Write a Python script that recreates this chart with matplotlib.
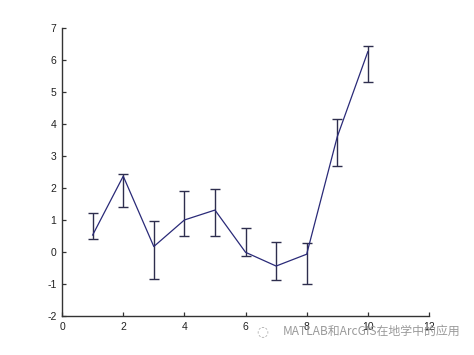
import numpy as np
import matplotlib.pyplot as plt

plt.rcParams['axes.unicode_minus'] = False

x = [1, 2, 3, 4, 5, 6, 7, 8, 9, 10]
y = [0.53, 2.37, 0.17, 1.0, 1.31, -0.01, -0.44, -0.07, 3.60, 6.26]
y_top = [1.21, 2.43, 0.97, 1.92, 1.97, 0.76, 0.31, 0.28, 4.15, 6.44]
y_bot = [0.40, 1.42, -0.85, 0.50, 0.50, -0.13, -0.89, -1.00, 2.70, 5.31]

x_ticks = [0, 2, 4, 6, 8, 10, 12]
y_ticks = [-2, -1, 0, 1, 2, 3, 4, 5, 6, 7]
watermark = 'MATLAB和ArcGIS在地学中的应用'

y = np.array(y)
err = [y - np.array(y_bot), np.array(y_top) - y]

fig = plt.figure(figsize=(4.74, 3.55), dpi=100)
ax = fig.add_axes([0.131, 0.110, 0.774, 0.811])

ax.errorbar(x, y, yerr=err, color='#2a2a78', ecolor='#2e2e4e', lw=0.9,
            elinewidth=1.0, capsize=3.5, capthick=1.0)

ax.set_xlim(0, 12)
ax.set_ylim(-2, 7)
ax.set_xticks(x_ticks)
ax.set_yticks(y_ticks)
for s in ['top', 'right']:
    ax.spines[s].set_visible(False)
for s in ['left', 'bottom']:
    ax.spines[s].set_color('#333333')
    ax.spines[s].set_linewidth(1.0)
ax.tick_params(direction='in', length=3, width=0.9, color='#333333',
               labelsize=7.5, labelcolor='#222222', pad=4)
for lab in ax.get_xticklabels() + ax.get_yticklabels():
    lab.set_family('Liberation Sans')

# watermark
fig.text(0.540, 0.068, '\u25CC', fontsize=10, color='#aaaaaa', va='center',
         family=['DejaVu Sans'])
fig.text(0.597, 0.068, watermark, fontsize=8.6, color='#9a9a9a', va='center',
         family=['Noto Sans CJK SC', 'DejaVu Sans'])

fig.savefig('out.png', dpi=100)
